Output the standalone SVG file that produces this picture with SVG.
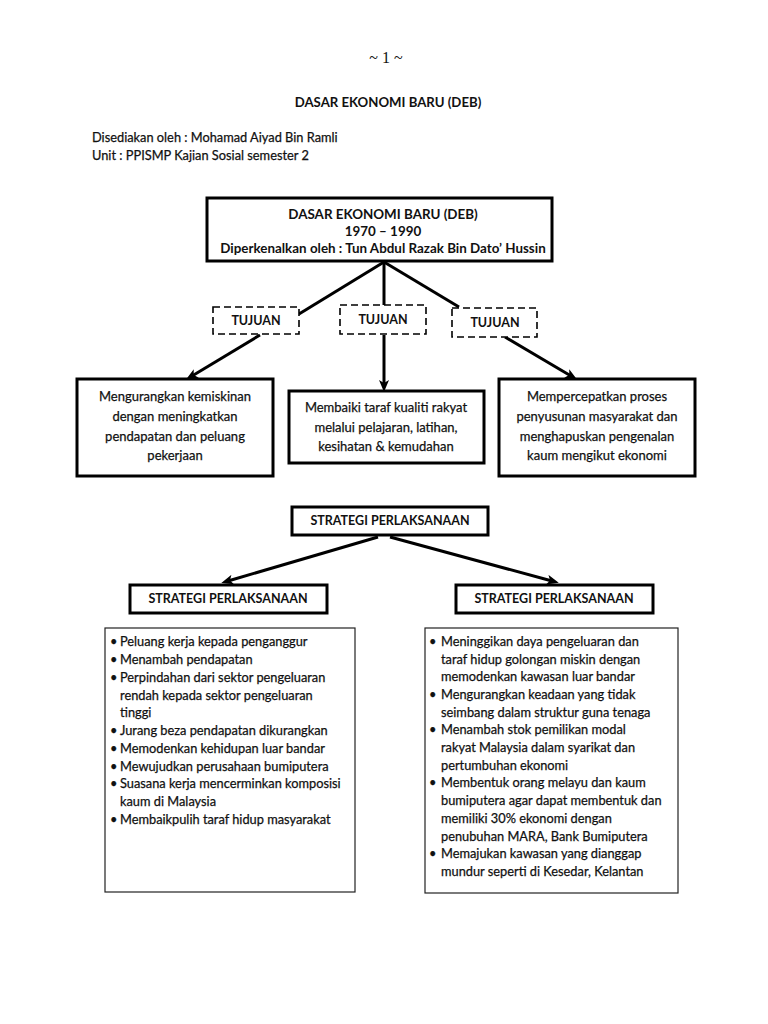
<svg xmlns="http://www.w3.org/2000/svg" width="768" height="1024" viewBox="0 0 768 1024">
<defs>
<style>
text{font-family:Lato,"Liberation Sans",sans-serif;fill:#111;}
.h{font-weight:bold;font-size:12.5px;}
.c{text-anchor:middle;}
.b{font-size:12.8px;stroke:#111;stroke-width:0.25;}
.bx{font-size:13px;stroke:#111;stroke-width:0.25;}
.box{fill:#fff;stroke:#000;stroke-width:3;}
.dash{fill:#fff;stroke:#000;stroke-width:1.6;stroke-dasharray:7,4;}
.list{fill:#fff;stroke:#222;stroke-width:1.2;}
.ln{stroke:#000;stroke-width:3;fill:none;}
</style>
<marker id="ah" markerUnits="userSpaceOnUse" markerWidth="12" markerHeight="10" refX="5" refY="5" orient="auto">
<path d="M0,0 L12,5 L0,10 L3,5 z" fill="#000"/>
</marker>
</defs>
<rect width="768" height="1024" fill="#fff"/>

<g id="header">
<text x="386" y="63" class="c" style="font-family:'Liberation Serif',serif;font-size:16px;">~ 1 ~</text>
<text x="388" y="107" class="c h" style="font-size:13.2px;">DASAR EKONOMI BARU (DEB)</text>
<text x="92" y="142" class="b">Disediakan oleh : Mohamad Aiyad Bin Ramli</text>
<text x="92" y="160" class="b">Unit : PPISMP Kajian Sosial semester 2</text>
</g>

<g id="connectors">
<line class="ln" x1="384" y1="262" x2="299" y2="314"/>
<line class="ln" x1="384" y1="262" x2="384" y2="305"/>
<line class="ln" x1="384" y1="262" x2="459" y2="307"/>
<line class="ln" x1="260" y1="335" x2="192" y2="376" marker-end="url(#ah)"/>
<line class="ln" x1="384" y1="335" x2="384" y2="385" marker-end="url(#ah)"/>
<line class="ln" x1="505" y1="337" x2="571" y2="376" marker-end="url(#ah)"/>
<line class="ln" x1="378" y1="537" x2="228" y2="581" marker-end="url(#ah)"/>
<line class="ln" x1="390" y1="537" x2="552" y2="581" marker-end="url(#ah)"/>
</g>

<g id="main">
<rect class="box" x="207" y="198" width="345" height="63"/>
<text x="383" y="219" class="c h" style="font-size:13.4px;">DASAR EKONOMI BARU (DEB)</text>
<text x="383" y="236" class="c h" style="font-size:13.4px;">1970 – 1990</text>
<text x="383" y="253" class="c h" style="font-size:13.4px;">Diperkenalkan oleh : Tun Abdul Razak Bin Dato’ Hussin</text>
</g>

<g id="tujuan1">
<rect class="dash" x="213" y="307" width="86" height="27"/>
<text x="256" y="325" class="c h">TUJUAN</text>
</g>
<g id="tujuan2">
<rect class="dash" x="340" y="305" width="86" height="29"/>
<text x="383" y="324" class="c h">TUJUAN</text>
</g>
<g id="tujuan3">
<rect class="dash" x="452" y="308" width="85" height="29"/>
<text x="495" y="327" class="c h">TUJUAN</text>
</g>

<g id="goal1">
<rect class="box" x="77" y="379" width="196" height="97"/>
<text x="175" y="401" class="c bx">Mengurangkan kemiskinan</text>
<text x="175" y="421" class="c bx">dengan meningkatkan</text>
<text x="175" y="441" class="c bx">pendapatan dan peluang</text>
<text x="175" y="460" class="c bx">pekerjaan</text>
</g>
<g id="goal2">
<rect class="box" x="289" y="391" width="195" height="72"/>
<text x="386" y="412" class="c bx">Membaiki taraf kualiti rakyat</text>
<text x="386" y="432" class="c bx">melalui pelajaran, latihan,</text>
<text x="386" y="451" class="c bx">kesihatan &amp; kemudahan</text>
</g>
<g id="goal3">
<rect class="box" x="499" y="379" width="196" height="97"/>
<text x="597" y="401" class="c bx">Mempercepatkan proses</text>
<text x="597" y="421" class="c bx">penyusunan masyarakat dan</text>
<text x="597" y="441" class="c bx">menghapuskan pengenalan</text>
<text x="597" y="460" class="c bx">kaum mengikut ekonomi</text>
</g>

<g id="strategi">
<rect class="box" x="292" y="507" width="196" height="28"/>
<text x="390" y="525" class="c h">STRATEGI PERLAKSANAAN</text>
</g>
<g id="strategi1">
<rect class="box" x="130" y="585" width="197" height="28"/>
<text x="228" y="603" class="c h">STRATEGI PERLAKSANAAN</text>
</g>
<g id="strategi2">
<rect class="box" x="456" y="585" width="197" height="28"/>
<text x="554" y="603" class="c h">STRATEGI PERLAKSANAAN</text>
</g>

<g id="list1">
<rect class="list" x="105" y="628" width="250" height="264"/>
<text class="b" x="110" y="646">•</text><text class="b" x="120" y="646">Peluang kerja kepada penganggur</text>
<text class="b" x="110" y="664">•</text><text class="b" x="120" y="664">Menambah pendapatan</text>
<text class="b" x="110" y="682">•</text><text class="b" x="120" y="682">Perpindahan dari sektor pengeluaran</text>
<text class="b" x="120" y="700">rendah kepada sektor pengeluaran</text>
<text class="b" x="120" y="717">tinggi</text>
<text class="b" x="110" y="735">•</text><text class="b" x="120" y="735">Jurang beza pendapatan dikurangkan</text>
<text class="b" x="110" y="753">•</text><text class="b" x="120" y="753">Memodenkan kehidupan luar bandar</text>
<text class="b" x="110" y="771">•</text><text class="b" x="120" y="771">Mewujudkan perusahaan bumiputera</text>
<text class="b" x="110" y="788">•</text><text class="b" x="120" y="788">Suasana kerja mencerminkan komposisi</text>
<text class="b" x="120" y="806">kaum di Malaysia</text>
<text class="b" x="110" y="824">•</text><text class="b" x="120" y="824">Membaikpulih taraf hidup masyarakat</text>
</g>

<g id="list2">
<rect class="list" x="425" y="628" width="253" height="265"/>
<text class="b" x="429" y="646">•</text><text class="b" x="441" y="646">Meninggikan daya pengeluaran dan</text>
<text class="b" x="441" y="664">taraf hidup golongan miskin dengan</text>
<text class="b" x="441" y="681">memodenkan kawasan luar bandar</text>
<text class="b" x="429" y="699">•</text><text class="b" x="441" y="699">Mengurangkan keadaan yang tidak</text>
<text class="b" x="441" y="717">seimbang dalam struktur guna tenaga</text>
<text class="b" x="429" y="734">•</text><text class="b" x="441" y="734">Menambah stok pemilikan modal</text>
<text class="b" x="441" y="752">rakyat Malaysia dalam syarikat dan</text>
<text class="b" x="441" y="770">pertumbuhan ekonomi</text>
<text class="b" x="429" y="787">•</text><text class="b" x="441" y="787">Membentuk orang melayu dan kaum</text>
<text class="b" x="441" y="805">bumiputera agar dapat membentuk dan</text>
<text class="b" x="441" y="823">memiliki 30% ekonomi dengan</text>
<text class="b" x="441" y="841">penubuhan MARA, Bank Bumiputera</text>
<text class="b" x="429" y="858">•</text><text class="b" x="441" y="858">Memajukan kawasan yang dianggap</text>
<text class="b" x="441" y="876">mundur seperti di Kesedar, Kelantan</text>
</g>
</svg>
